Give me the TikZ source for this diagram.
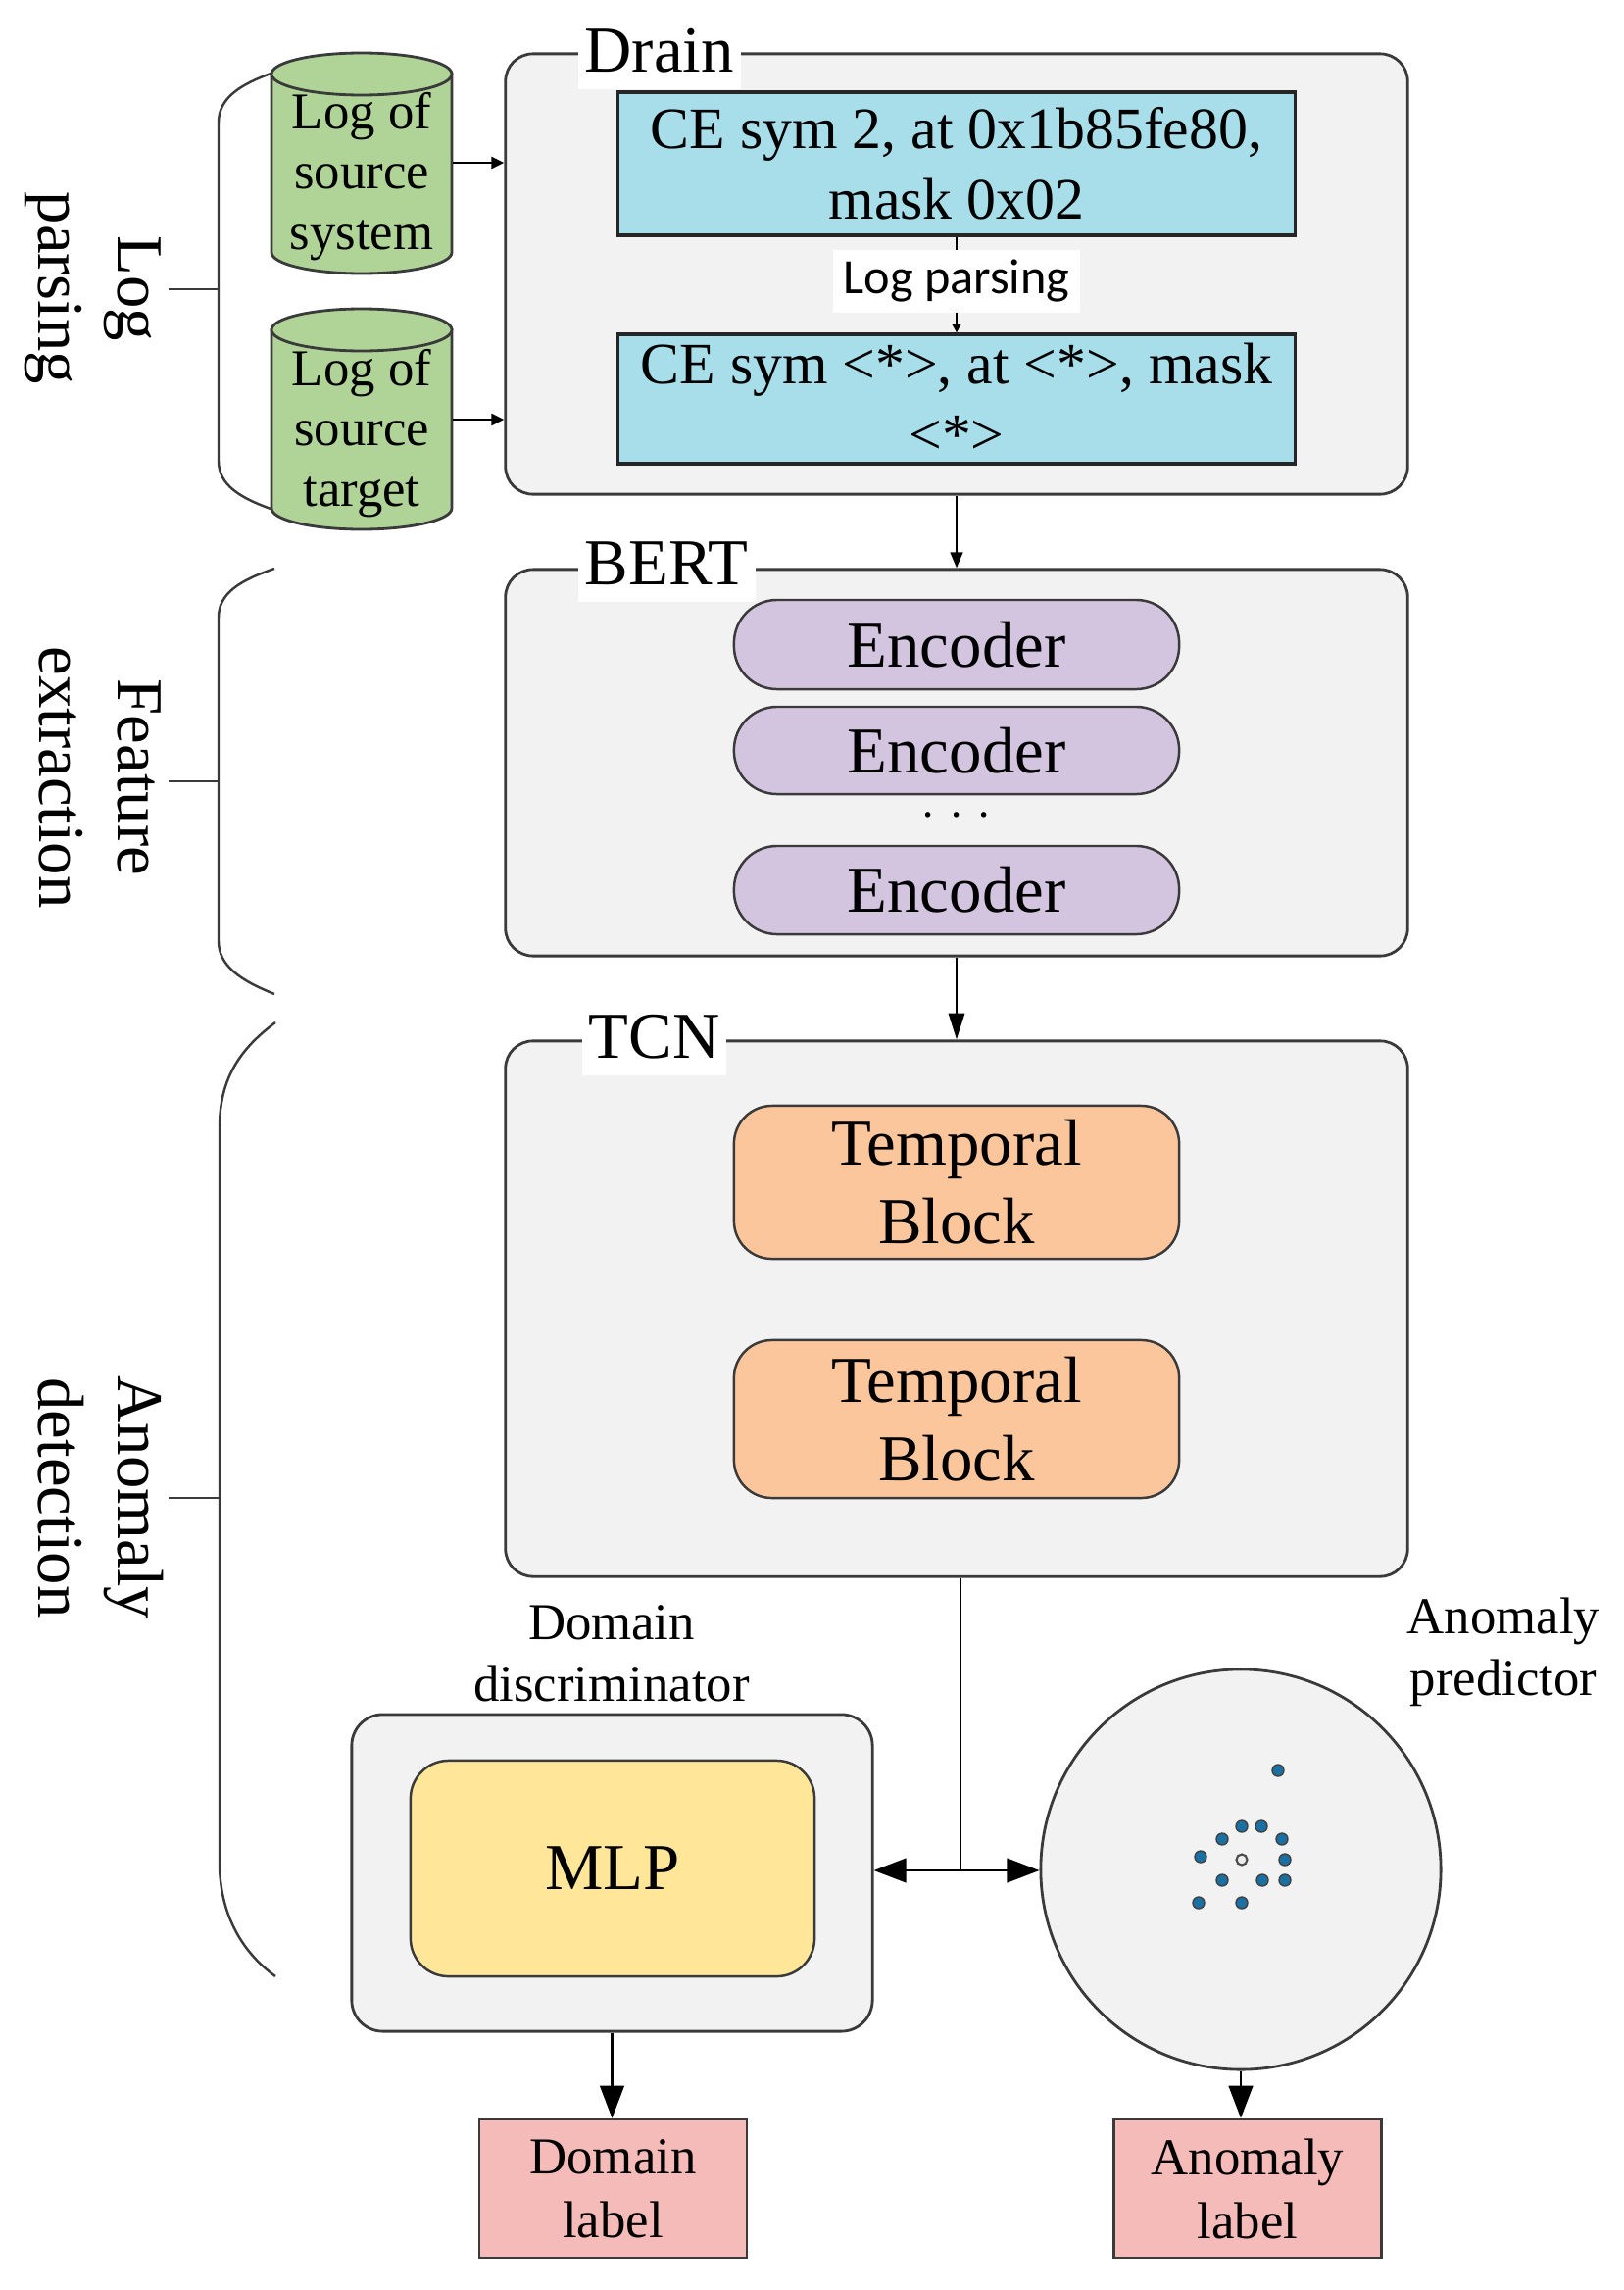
\documentclass[tikz,border=0pt]{standalone}
\usepackage{fontspec}
\setmainfont{Liberation Serif}
\newfontfamily\carlito{Carlito}
\usetikzlibrary{arrows.meta}
\definecolor{boxgray}{HTML}{F2F2F2}
\definecolor{edge}{HTML}{3A3A3A}
\definecolor{cylgreen}{HTML}{B0D497}
\definecolor{cebl}{HTML}{A8DEEA}
\definecolor{encp}{HTML}{D3C4DF}
\definecolor{tempo}{HTML}{FCC69C}
\definecolor{mlpy}{HTML}{FFE699}
\definecolor{labp}{HTML}{F5BBB9}
\definecolor{dotb}{HTML}{1A6FA3}
\begin{document}
\begin{tikzpicture}[x=0.01cm,y=-0.01cm,
  container/.style={draw=edge, line width=0.8pt, fill=boxgray, rounded corners=8pt, inner sep=0pt},
  titlelab/.style={fill=white, inner sep=2pt, font=\fontsize{19}{22}\selectfont, text height=0.7em, text depth=0.3em, anchor=base west},
  cebox/.style={draw=black!85, line width=0.9pt, fill=cebl, inner sep=0pt, align=center, font=\fontsize{17}{20.5}\selectfont},
  encbox/.style={draw=edge, line width=0.7pt, fill=encp, rounded corners=12.5pt, inner sep=0pt, minimum width=4.54cm, font=\fontsize{19}{22}\selectfont},
  tempbox/.style={draw=edge, line width=0.7pt, fill=tempo, rounded corners=11pt, inner sep=0pt, minimum width=4.54cm, align=center, font=\fontsize{19}{22.7}\selectfont},
  labbox/.style={draw=edge, line width=0.7pt, fill=labp, inner sep=0pt, minimum width=2.73cm, minimum height=1.41cm, align=center, font=\fontsize{15}{18.5}\selectfont},
  sidelab/.style={rotate=-90, align=center, font=\fontsize{19}{23}\selectfont, inner sep=0pt},
  smalllab/.style={align=center, font=\fontsize{15}{18}\selectfont, inner sep=0pt},
  cyltext/.style={align=center, font=\fontsize{15}{17.4}\selectfont, inner sep=0pt},
  brace/.style={draw=edge, line width=0.7pt},
  link/.style={draw=black, line width=0.7pt},
  arrS/.style={link, -{Triangle[length=3.7pt,width=3.4pt]}},
  arrT/.style={link, -{Triangle[length=2.4pt,width=2.4pt]}},
  arrM/.style={link, -{Triangle[length=4.6pt,width=3.6pt]}},
  arrL/.style={link, -{Triangle[length=7.6pt,width=4.6pt]}},
  arrB/.style={link, -{Triangle[length=9.4pt,width=7pt]}},
  pdot/.style={fill=dotb, draw=black!75, line width=0.4pt},
  hdot/.style={fill=gray!15, draw=gray!60!black, line width=0.6pt}
]
\useasboundingbox (0,0) rectangle (1656,2336);

% ---------- side braces ----------
\draw[brace] (279,74) .. controls (245,86) and (223,100) .. (223,125) -- (223,470) .. controls (223,495) and (245,508) .. (279,520);
\draw[brace] (172,295) -- (223,295);
\node[sidelab] (lblLP) at (95,294) {Log\\parsing};

\draw[brace] (280,580) .. controls (245,592) and (223,605) .. (223,630) -- (223,960) .. controls (223,985) and (245,1000) .. (280,1014);
\draw[brace] (172,797) -- (223,797);
\node[sidelab] (lblFE) at (102,793) {Feature\\extraction};

\draw[brace] (281,1043) .. controls (245,1070) and (224,1100) .. (224,1150) -- (224,1900) .. controls (224,1950) and (245,1990) .. (281,2016);
\draw[brace] (172,1528) -- (224,1528);
\node[sidelab] (lblAD) at (103,1528) {Anomaly\\detection};

% ---------- cylinders ----------
\filldraw[draw=edge, line width=0.8pt, fill=cylgreen]
  (277,75.5) -- (277,257.5) arc[start angle=180, end angle=0, x radius=92, y radius=21.5] -- (461,75.5) -- cycle;
\filldraw[draw=edge, line width=0.8pt, fill=cylgreen] (369,75.5) ellipse [x radius=92, y radius=21.5];
\node[cyltext] (cyl1) at (369,180) {Log of\\source\\system};

\filldraw[draw=edge, line width=0.8pt, fill=cylgreen]
  (277,336.5) -- (277,518.5) arc[start angle=180, end angle=0, x radius=92, y radius=21.5] -- (461,336.5) -- cycle;
\filldraw[draw=edge, line width=0.8pt, fill=cylgreen] (369,336.5) ellipse [x radius=92, y radius=21.5];
\node[cyltext] (cyl2) at (369,442) {Log of\\source\\target};

\coordinate (c1) at (462,166);
\coordinate (c2) at (462,428);

% ---------- Drain ----------
\node[container, minimum width=9.2cm, minimum height=4.49cm] (drain) at (976,279.5) {};
\node[titlelab] (drainT) at (589,73) {Drain};
\node[cebox, minimum width=6.9cm, minimum height=1.46cm] (ce1) at (976,167) {CE sym 2, at 0x1b85fe80,\\mask 0x02};
\node[cebox, minimum width=6.9cm, minimum height=1.32cm] (ce2) at (976,407) {CE sym <*>, at <*>, mask\\<*>};
\draw[arrT] (ce1.south) -- (ce2.north);
\node[fill=white, inner sep=3pt, font=\carlito\fontsize{14.3}{16}\selectfont] (lp) at (976,287) {Log parsing};

\draw[arrS] (c1) -- (c1 -| drain.west);
\draw[arrS] (c2) -- (c2 -| drain.west);

% ---------- BERT ----------
\node[container, minimum width=9.2cm, minimum height=3.94cm] (bert) at (976,778) {};
\node[titlelab] (bertT) at (589,596) {BERT};
\node[encbox, minimum height=0.91cm] (enc1) at (976,657.5) {Encoder};
\node[encbox, minimum height=0.89cm] (enc2) at (976,765.5) {Encoder};
\node[inner sep=0pt, anchor=base, font=\fontsize{13}{13}\selectfont] (edots) at (976,846) {·\hspace{3.8pt}·\hspace{3.8pt}·};
\node[encbox, minimum height=0.90cm] (enc3) at (976,908) {Encoder};

\draw[arrM] (drain.south) -- (bert.north);

% ---------- TCN ----------
\node[container, minimum width=9.2cm, minimum height=5.46cm] (tcn) at (976,1335) {};
\node[titlelab] (tcnT) at (593,1079) {TCN};
\node[tempbox, minimum height=1.56cm] (tb1) at (976,1206) {Temporal\\Block};
\node[tempbox, minimum height=1.61cm] (tb2) at (976,1447.5) {Temporal\\Block};

\draw[arrL] (bert.south) -- (tcn.north);

% ---------- bottom part ----------
\node[container, rounded corners=9pt, minimum width=5.31cm, minimum height=3.23cm] (disc) at (624.5,1910.5) {};
\node[draw=edge, line width=0.7pt, fill=mlpy, rounded corners=11pt, inner sep=0pt, minimum width=4.12cm, minimum height=2.2cm, font=\fontsize{19}{22}\selectfont] (mlp) at (625,1906) {MLP};
\node[smalllab] (discT) at (624,1687) {Domain\\discriminator};

\node[circle, draw=edge, line width=0.8pt, fill=boxgray, inner sep=0pt, minimum size=4.08cm] (circ) at (1266,1907) {};
\node[smalllab] (circT) at (1534,1685) {Anomaly\\predictor};

\begin{scope}[shift={(circ.center)}]
  \foreach \dx/\dy in {38/-101, 1/-44, 21/-44, -19/-31, 42/-31, -41/-13, 45/-10, -19/11, 22/11, 45/11, -43/34, 1/34}
    \filldraw[pdot] (\dx,\dy) circle (6);
  \filldraw[hdot] (1,-10) circle (5.5);
\end{scope}

\coordinate (j) at (980,1908);
\draw[link] (j |- tcn.south) -- (j);
\draw[arrB] (j) -- (j -| disc.east);
\draw[arrB] (j) -- (j -| circ.west);

\node[labbox] (dlab) at (625.5,2232.5) {Domain\\label};
\node[labbox] (alab) at (1273,2232.5) {Anomaly\\label};

\draw[arrB] (disc.south) -- (disc.south |- dlab.north);
\draw[arrB] (circ.south) -- (circ.south |- alab.north);
\end{tikzpicture}
\end{document}
